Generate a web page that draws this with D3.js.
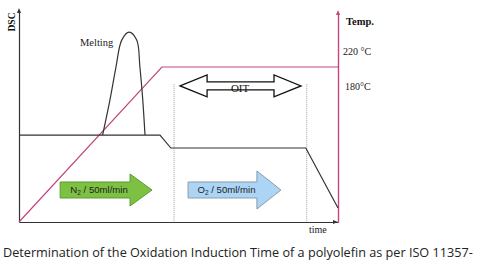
<!DOCTYPE html>
<html>
<head>
<meta charset="utf-8">
<script src="https://cdn.jsdelivr.net/npm/d3@7"></script>
<style>
  body { margin: 0; background: #fff; }
  svg { display: block; }
</style>
</head>
<body>
<svg id="chart"></svg>
<script>
// time in % of run, DSC signal in arbitrary units (0-100)
var dscTime   = [0, 26.2, 39.5, 44.2, 47.6, 89.9, 100];
var dscSignal = [41, 41, 41, 41, 34.9, 34.9, 6.6];

// melting endotherm
var peakTime   = [26.2, 28.5, 30.4, 32.2, 34.5, 36.9, 37.9, 38.8, 39.5];
var peakSignal = [41, 57.5, 73.1, 85.8, 89.6, 85.8, 73.1, 57.5, 41];

// temperature programme
var tempTime  = [0, 44.8, 100];
var tempValue = [20, 200, 200];

// gas switch / end of OIT
var markerTimes = [48.6, 90.2];

var tempLabels = ["220 °C", "180°C"];
var tempLabelY = [55, 90];

var screen = { width: 480, height: 270 };
var margins = { top: 10, left: 19, right: 142, bottom: 48 };

var svg = d3.select("#chart")
  .attr("width", screen.width)
  .attr("height", screen.height);

var xScale = d3.scaleLinear()
  .domain([0, 100])
  .range([margins.left, screen.width - margins.right]);

var yScale = d3.scaleLinear()
  .domain([0, 100])
  .range([screen.height - margins.bottom, margins.top]);

var tScale = d3.scaleLinear()
  .domain([20, 200])
  .range([screen.height - margins.bottom, 67]);

var serif = "'Liberation Serif', 'DejaVu Serif', serif";
var sans = "'Liberation Sans', Arial, sans-serif";

// axes (no ticks)
var yAxis = d3.axisLeft(yScale).tickValues([]).tickSizeOuter(0);
var xAxis = d3.axisBottom(xScale).tickValues([]).tickSizeOuter(0);
var tAxis = d3.axisRight(d3.scaleLinear().domain([0, 1]).range([screen.height - margins.bottom, 12]))
  .tickValues([]).tickSizeOuter(0);

var yAxisG = svg.append("g")
  .attr("transform", "translate(" + margins.left + ",0)")
  .call(yAxis);
yAxisG.select(".domain").attr("stroke", "#333").attr("stroke-width", 1.2);

var xAxisG = svg.append("g")
  .attr("transform", "translate(0," + yScale(0) + ")")
  .call(xAxis);
xAxisG.select(".domain").attr("stroke", "#333").attr("stroke-width", 1.2);

// dotted markers
svg.selectAll(".marker")
  .data(markerTimes)
  .enter()
  .append("line")
  .attr("x1", function(d) { return xScale(d); })
  .attr("x2", function(d) { return xScale(d); })
  .attr("y1", yScale(65))
  .attr("y2", yScale(0))
  .attr("stroke", "#888")
  .attr("stroke-width", 0.8)
  .attr("stroke-dasharray", "1,1");

// temperature line
var tempLine = d3.line()
  .x(function(d) { return xScale(d[0]); })
  .y(function(d) { return tScale(d[1]); });

svg.append("path")
  .datum(d3.zip(tempTime, tempValue))
  .attr("d", tempLine)
  .attr("fill", "none")
  .attr("stroke", "#c2477e")
  .attr("stroke-width", 1.2);

var tAxisG = svg.append("g")
  .attr("transform", "translate(" + xScale(100) + ",0)")
  .call(tAxis);
tAxisG.select(".domain").attr("stroke", "#c2477e").attr("stroke-width", 1.4);

// axis arrow tips
svg.append("path").attr("d", "M" + (margins.left - 2) + ",13 L" + margins.left + ",8 L" + (margins.left + 2) + ",13 Z").attr("fill", "#333");
svg.append("path").attr("d", "M" + (xScale(100) - 2) + ",15 L" + xScale(100) + ",10 L" + (xScale(100) + 2) + ",15 Z").attr("fill", "#c2477e");
svg.append("path").attr("d", "M" + (xScale(100) - 5) + "," + (yScale(0) - 2) + " L" + xScale(100) + "," + yScale(0) + " L" + (xScale(100) - 5) + "," + (yScale(0) + 2) + " Z").attr("fill", "#333");

// DSC curve
var dscLine = d3.line()
  .x(function(d) { return xScale(d[0]); })
  .y(function(d) { return yScale(d[1]); });

svg.append("path")
  .datum(d3.zip(dscTime, dscSignal))
  .attr("d", dscLine)
  .attr("fill", "none")
  .attr("stroke", "#333")
  .attr("stroke-width", 1.2);

svg.append("path")
  .datum(d3.zip(peakTime, peakSignal))
  .attr("d", dscLine.curve(d3.curveCatmullRom.alpha(0.5)))
  .attr("fill", "none")
  .attr("stroke", "#333")
  .attr("stroke-width", 1.2);

// block arrows
function blockArrow(x0, x1, yc, bodyH, headH, headLen, doubleHead) {
  var p = d3.path();
  if (doubleHead) {
    p.moveTo(x0, yc);
    p.lineTo(x0 + headLen, yc - headH);
    p.lineTo(x0 + headLen, yc - bodyH);
  } else {
    p.moveTo(x0, yc - bodyH);
  }
  p.lineTo(x1 - headLen, yc - bodyH);
  p.lineTo(x1 - headLen, yc - headH);
  p.lineTo(x1, yc);
  p.lineTo(x1 - headLen, yc + headH);
  p.lineTo(x1 - headLen, yc + bodyH);
  if (doubleHead) {
    p.lineTo(x0 + headLen, yc + bodyH);
    p.lineTo(x0 + headLen, yc + headH);
  } else {
    p.lineTo(x0, yc + bodyH);
  }
  p.closePath();
  return p.toString();
}

// OIT
svg.append("path")
  .attr("d", blockArrow(xScale(50.5), xScale(88.4), yScale(64.2), 4, 11, 27, true))
  .attr("fill", "#fff")
  .attr("stroke", "#111")
  .attr("stroke-width", 1.3);

svg.append("text")
  .attr("x", xScale(69.3)).attr("y", 91.5)
  .attr("text-anchor", "middle")
  .style("font-family", serif).style("font-size", "11px")
  .attr("fill", "#111")
  .text("OIT");

// N2 and O2 flows
var flows = [
  { gas: "N", t0: 12.9, t1: 41.7, fill: "#7dc142", stroke: "#5d9a35", headH: 16, headLen: 22 },
  { gas: "O", t0: 53.0, t1: 82.1, fill: "#acd5f5", stroke: "#8a9cab", headH: 19, headLen: 24 }
];

flows.forEach(function(f) {
  var yc = yScale(15.1);
  svg.append("path")
    .attr("d", blockArrow(xScale(f.t0), xScale(f.t1), yc, 8, f.headH, f.headLen, false))
    .attr("fill", f.fill)
    .attr("stroke", f.stroke)
    .attr("stroke-width", 1);
  var txt = svg.append("text")
    .attr("x", (xScale(f.t0) + xScale(f.t1) - f.headLen) / 2 + 4)
    .attr("y", yc + 3.5)
    .attr("text-anchor", "middle")
    .style("font-family", sans).style("font-size", "9.6px")
    .attr("fill", "#222");
  txt.append("tspan").text(f.gas);
  txt.append("tspan").attr("dy", 2).style("font-size", "6.5px").text("2");
  txt.append("tspan").attr("dy", -2).text(" / 50ml/min");
});

// labels
svg.append("text")
  .attr("transform", "translate(15,22) rotate(-90)")
  .attr("text-anchor", "middle")
  .style("font-family", serif).style("font-size", "9.5px").style("font-weight", "bold")
  .attr("fill", "#111")
  .text("DSC");

svg.append("text")
  .attr("x", 80).attr("y", 46)
  .style("font-family", serif).style("font-size", "10.5px")
  .attr("fill", "#222")
  .text("Melting");

svg.append("text")
  .attr("x", 346).attr("y", 25)
  .style("font-family", serif).style("font-size", "10.5px").style("font-weight", "bold")
  .attr("fill", "#111")
  .text("Temp.");

svg.selectAll(".tlabel")
  .data(tempLabels)
  .enter()
  .append("text")
  .attr("x", function(d, i) { return i === 0 ? 343 : 345; })
  .attr("y", function(d, i) { return tempLabelY[i]; })
  .style("font-family", serif).style("font-size", "10px")
  .attr("fill", "#222")
  .text(function(d) { return d; });

svg.append("text")
  .attr("x", 309).attr("y", 233)
  .style("font-family", serif).style("font-size", "10px")
  .attr("fill", "#222")
  .text("time");

// caption, squeezed horizontally to fit the page width
var caption = svg.append("text")
  .attr("x", 0).attr("y", 0)
  .style("font-family", "'Open Sans', 'Noto Sans', sans-serif").style("font-size", "13px")
  .attr("fill", "#222")
  .text("Determination  of the Oxidation  Induction Time of a polyolefin as per ISO 11357-");
var capW = caption.node().getComputedTextLength();
caption.attr("transform", "translate(3,257) scale(" + (470 / capW) + ",1)");
</script>
</body>
</html>
